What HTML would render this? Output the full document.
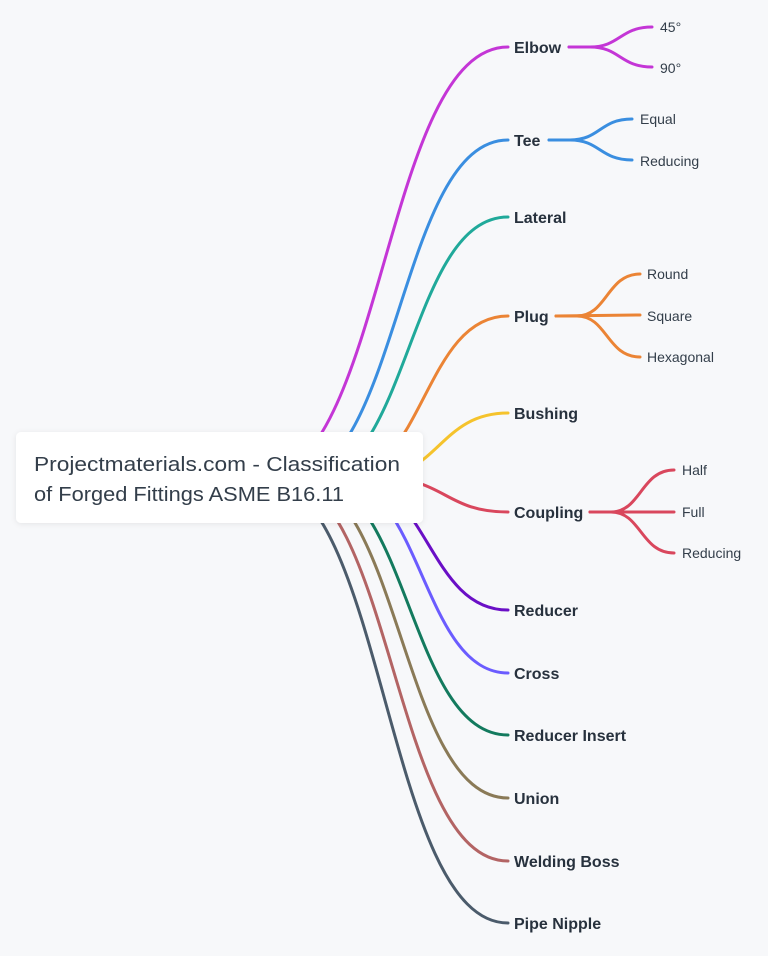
<!DOCTYPE html>
<html><head><meta charset="utf-8"><style>
html,body{margin:0;padding:0;background:#f7f8fa;}
svg{display:block;}
.m{font-family:"Liberation Sans",sans-serif;font-weight:bold;font-size:16px;fill:#27313d;}
.s{font-family:"Liberation Sans",sans-serif;font-size:14px;fill:#333e4a;}
path{fill:none;stroke-width:3;stroke-linecap:round;}
</style></head><body>
<svg width="768" height="956" viewBox="0 0 768 956" xmlns="http://www.w3.org/2000/svg">
<defs><filter id="sh" x="-10%" y="-30%" width="120%" height="160%"><feDropShadow dx="0" dy="1" stdDeviation="3" flood-color="#000" flood-opacity="0.08"/></filter></defs>
<!-- main branches -->
<path d="M260 478 C384 478 384 47 508 47" stroke="#c436d6"/>
<path d="M290 478 C399 478 399 140 508 140" stroke="#3a8ee0"/>
<path d="M310 478 C409 478 409 217 508 217" stroke="#20a99a"/>
<path d="M341 478 C424 478 424 316 508 316" stroke="#eb8435"/>
<path d="M370 478 C439 478 439 413 508 413" stroke="#f5c32c"/>
<path d="M382 478 C445 478 445 512 508 512" stroke="#d9475d"/>
<path d="M349 478 C428 478 428 610 508 610" stroke="#6a0fc6"/>
<path d="M336 478 C422 478 422 673 508 673" stroke="#6b5cff"/>
<path d="M310 478 C409 478 409 735 508 735" stroke="#137a5e"/>
<path d="M295 478 C401 478 401 798 508 798" stroke="#8a7a57"/>
<path d="M279 478 C393 478 393 861 508 861" stroke="#b36464"/>
<path d="M262 478 C385 478 385 923 508 923" stroke="#4b5b6b"/>
<!-- sub branches -->
<path d="M569 47 L590 47 C620 47 620 27 652 27" stroke="#c436d6"/>
<path d="M569 47 L590 47 C620 47 620 67 652 67" stroke="#c436d6"/>
<path d="M549 140 L570 140 C600 140 600 119 632 119" stroke="#3a8ee0"/>
<path d="M549 140 L570 140 C600 140 600 160 632 160" stroke="#3a8ee0"/>
<path d="M556 316 L577 316 C607 316 607 274 640 274" stroke="#eb8435"/>
<path d="M556 316 L640 315" stroke="#eb8435"/>
<path d="M556 316 L577 316 C607 316 607 357 640 357" stroke="#eb8435"/>
<path d="M590 512 L611 512 C641 512 641 470 674 470" stroke="#d9475d"/>
<path d="M590 512 L674 512" stroke="#d9475d"/>
<path d="M590 512 L611 512 C641 512 641 553 674 553" stroke="#d9475d"/>
<!-- root -->
<rect x="16" y="432" width="407" height="91" rx="5" fill="#fff" filter="url(#sh)"/>
<text x="34" y="471" font-family="Liberation Sans,sans-serif" font-size="20" fill="#333e4a" textLength="366" lengthAdjust="spacingAndGlyphs">Projectmaterials.com - Classification</text>
<text x="34" y="501" font-family="Liberation Sans,sans-serif" font-size="20" fill="#333e4a" textLength="310" lengthAdjust="spacingAndGlyphs">of Forged Fittings ASME B16.11</text>
<!-- labels -->
<text class="m" x="514" y="53">Elbow</text>
<text class="m" x="514" y="146">Tee</text>
<text class="m" x="514" y="223">Lateral</text>
<text class="m" x="514" y="322">Plug</text>
<text class="m" x="514" y="419">Bushing</text>
<text class="m" x="514" y="518">Coupling</text>
<text class="m" x="514" y="616">Reducer</text>
<text class="m" x="514" y="679">Cross</text>
<text class="m" x="514" y="741">Reducer Insert</text>
<text class="m" x="514" y="804">Union</text>
<text class="m" x="514" y="867">Welding Boss</text>
<text class="m" x="514" y="929">Pipe Nipple</text>
<text class="s" x="660" y="32">45°</text>
<text class="s" x="660" y="73">90°</text>
<text class="s" x="640" y="124">Equal</text>
<text class="s" x="640" y="166">Reducing</text>
<text class="s" x="647" y="279">Round</text>
<text class="s" x="647" y="321">Square</text>
<text class="s" x="647" y="362">Hexagonal</text>
<text class="s" x="682" y="475">Half</text>
<text class="s" x="682" y="517">Full</text>
<text class="s" x="682" y="558">Reducing</text>
</svg>
</body></html>
